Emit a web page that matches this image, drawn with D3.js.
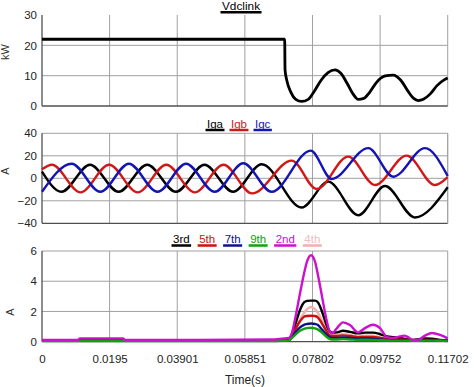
<!DOCTYPE html>
<html><head><meta charset="utf-8">
<script src="https://cdn.jsdelivr.net/npm/d3@7"></script>
<style>body{margin:0;background:#fff}svg{display:block}</style>
</head><body><svg id="c" width="474" height="387"></svg>
<script>
// ---------- DATA ----------
const xTicks = [0, 0.0195, 0.03901, 0.05851, 0.07802, 0.09752, 0.11702];
const xTickLabels = ["0", "0.0195", "0.03901", "0.05851", "0.07802", "0.09752", "0.11702"];
const vdcTicks = [0, 10, 20, 30];
const igTicks = [-40, -20, 0, 20, 40];
const hTicks = [0, 2, 4, 6];

// Vdclink (kW): [time, value]
const vdclink = [[0,22],[0.0700,22],[0.0701,12],[0.0706,8.5],[0.0718,4.5],[0.0732,2.2],[0.0749,1.5],
  [0.0768,2.2],[0.0785,4.8],[0.0805,8.5],[0.0825,11.0],[0.0845,11.9],[0.0862,10.8],[0.0880,7.5],
  [0.0897,4.0],[0.0912,2.2],[0.0928,2.5],[0.0945,4.5],[0.0965,7.8],[0.0990,9.9],[0.1013,10.2],
  [0.1035,8.5],[0.1055,5.0],[0.1072,2.5],[0.1085,1.8],[0.1100,2.2],[0.1120,4.0],[0.1140,6.8],
  [0.1160,8.6],[0.11702,9.2]];

// Grid currents (A): [time, value] at extrema
const iga = [[0,6],[0.005596,-12],[0.013845,12],[0.022095,-12],[0.030344,12],[0.038622,-12],
  [0.046872,12],[0.055121,-12],[0.063370,12.5],[0.074908,-25.9],[0.082580,-3],[0.091234,-32.8],
  [0.098935,-6.9],[0.107588,-34.8],[0.11702,-8]];
const igb = [[0,8],[0.002856,12],[0.011105,-12.5],[0.019354,12],[0.027604,-12.5],[0.035853,12],
  [0.044102,-12.5],[0.052352,12],[0.060601,-13.4],[0.072023,15.7],[0.079234,-9.5],[0.088349,19.3],
  [0.096051,-6],[0.105194,20.2],[0.113357,-6],[0.11702,1]];
const igc = [[0,-12],[0.008567,13],[0.016816,-12],[0.025065,13],[0.033315,-12],[0.041564,13],
  [0.049814,-12],[0.058063,13.4],[0.066255,-12],[0.077504,24.6],[0.083561,-0.6],[0.094118,26.8],
  [0.101329,1.4],[0.110473,26.8],[0.11702,2]];

// Harmonics (A): common sample times
const hTime = [0,0.01038,0.01096,0.02336,0.02394,0.04557,0.06721,0.06923,0.07124,0.07211,0.07326,
  0.07442,0.07557,0.07644,0.07759,0.07874,0.07961,0.08076,0.08192,0.08278,0.08365,0.08509,0.08682,
  0.08884,0.09115,0.09317,0.09547,0.09749,0.09951,0.10124,0.10326,0.10442,0.10557,0.10701,0.10845,
  0.11047,0.11249,0.11480,0.11702];
const h2nd = [0.12,0.12,0.22,0.22,0.12,0.12,0.15,0.2,0.25,0.6,1.8,3.2,4.5,5.3,5.72,5.3,4.4,3.0,1.6,0.8,
  0.55,0.9,1.28,1.1,0.62,0.9,1.12,0.9,0.3,0.25,0.35,0.4,0.3,0.12,0.12,0.4,0.58,0.45,0.22];
const h3rd = [0.08,0.08,0.08,0.08,0.08,0.08,0.08,0.1,0.2,0.5,1.3,2.1,2.6,2.7,2.72,2.72,2.6,2.0,1.2,0.75,
  0.6,0.62,0.72,0.65,0.55,0.6,0.6,0.5,0.35,0.3,0.25,0.2,0.15,0.12,0.15,0.22,0.2,0.12,0.1];
const h4th = [0.08,0.08,0.08,0.08,0.08,0.08,0.08,0.1,0.15,0.45,1.0,1.5,1.9,2.15,2.3,2.15,1.9,1.4,0.9,0.55,
  0.45,0.45,0.5,0.45,0.35,0.4,0.4,0.3,0.2,0.18,0.15,0.14,0.12,0.1,0.1,0.14,0.14,0.1,0.08];
const h5th = [0.08,0.08,0.08,0.08,0.08,0.08,0.08,0.1,0.15,0.4,0.9,1.35,1.65,1.7,1.72,1.7,1.6,1.2,0.75,0.45,
  0.38,0.38,0.42,0.38,0.3,0.32,0.32,0.25,0.18,0.15,0.14,0.13,0.12,0.1,0.1,0.12,0.12,0.1,0.08];
const h7th = [0.06,0.06,0.06,0.06,0.06,0.06,0.06,0.08,0.1,0.3,0.65,0.95,1.12,1.17,1.2,1.17,1.1,0.8,0.5,0.32,
  0.25,0.25,0.28,0.25,0.2,0.22,0.2,0.15,0.12,0.1,0.1,0.1,0.1,0.08,0.08,0.1,0.1,0.08,0.06];
const h9th = [0.05,0.05,0.05,0.05,0.05,0.05,0.05,0.06,0.08,0.25,0.5,0.72,0.85,0.9,0.92,0.88,0.8,0.6,0.35,0.2,
  0.15,0.15,0.17,0.15,0.12,0.13,0.12,0.1,0.08,0.07,0.07,0.07,0.07,0.06,0.06,0.07,0.07,0.06,0.05];

const igNames = ["Iga", "Igb", "Igc"];
const hNames = ["3rd", "5th", "7th", "9th", "2nd", "4th"];

// ---------- DRAW ----------
const svg = d3.select("#c");
const FONT = "'Liberation Sans', Arial, sans-serif";
const x = d3.scaleLinear().domain([0, 0.11702]).range([42, 447.7]);
const GRID = "#a0a0a0", AXIS = "#505050";

function panel(y, ticks, ylabel, ylabelPos, topBorder) {
  const g = svg.append("g");
  const [y0, y1] = y.range();
  g.selectAll(".vg").data(xTicks.slice(1)).enter().append("line")
    .attr("x1", d => x(d)).attr("x2", d => x(d)).attr("y1", y1).attr("y2", y0)
    .attr("stroke", GRID).attr("stroke-width", 1);
  g.selectAll(".hg").data(ticks.slice(1, topBorder ? ticks.length : ticks.length - 1)).enter().append("line")
    .attr("x1", x(0)).attr("x2", x(0.11702)).attr("y1", d => y(d)).attr("y2", d => y(d))
    .attr("stroke", GRID).attr("stroke-width", 1);
  g.append("line").attr("x1", x(0)).attr("x2", x(0)).attr("y1", y1).attr("y2", y0)
    .attr("stroke", AXIS).attr("stroke-width", 1.3);
  g.append("line").attr("x1", x(0)).attr("x2", x(0.11702)).attr("y1", y0).attr("y2", y0)
    .attr("stroke", AXIS).attr("stroke-width", 1.3);
  const ax = g.append("g").attr("transform", `translate(${x(0)},0)`)
    .call(d3.axisLeft(y).tickValues(ticks).tickSize(0).tickPadding(5).tickFormat(d3.format("d")));
  ax.select(".domain").remove();
  ax.selectAll("text").attr("font-family", FONT).attr("font-size", 11.5).attr("fill", "#222");
  g.append("text").attr("transform", `translate(${ylabelPos[0]},${ylabelPos[1]}) rotate(-90)`)
    .attr("text-anchor", "middle").attr("font-family", FONT).attr("font-size", 11).attr("fill", "#333")
    .text(ylabel);
  return g;
}

function legend(names, colors, startX, baseline, gap, size) {
  let cx = startX;
  names.forEach((n, i) => {
    const t = svg.append("text").attr("x", cx).attr("y", baseline).attr("font-family", FONT)
      .attr("font-size", size).attr("fill", i === 5 ? "#e8c0c0" : colors[i]).text(n);
    const w = t.node().getComputedTextLength();
    svg.append("line").attr("x1", cx - 1.5).attr("x2", cx + w + 1.5).attr("y1", baseline + 2.5).attr("y2", baseline + 2.5)
      .attr("stroke", colors[i]).attr("stroke-width", 2.5);
    cx += w + gap;
  });
}

// Panel 1
const y1 = d3.scaleLinear().domain([0, 30]).range([106, 15]);
panel(y1, vdcTicks, "kW", [9, 52], false);
svg.append("path").datum(vdclink)
  .attr("d", d3.line().x(d => x(d[0])).y(d => y1(d[1])).curve(d3.curveMonotoneX))
  .attr("fill", "none").attr("stroke", "#000").attr("stroke-width", 2.8);
legend(["Vdclink"], ["#000"], 222, 9.8, 0, 11.8);

// Panel 2
const y2 = d3.scaleLinear().domain([-40, 40]).range([223.3, 133.3]);
panel(y2, igTicks, "A", [9, 171], true);
svg.append("line").attr("x1", x(0.11702)).attr("x2", x(0.11702)).attr("y1", 133.3).attr("y2", 223.3)
  .attr("stroke", GRID);
const igColors = ["#000000", "#d01818", "#1414b4"];
[iga, igb, igc].forEach((s, i) => {
  svg.append("path").datum(s)
    .attr("d", d3.line().x(d => x(d[0])).y(d => y2(d[1])).curve(d3.curveMonotoneX))
    .attr("fill", "none").attr("stroke", igColors[i]).attr("stroke-width", 2.4);
});
legend(igNames, igColors, 207, 127.5, 8, 11.5);

// Panel 3
const y3 = d3.scaleLinear().domain([0, 6]).range([341.7, 251]);
panel(y3, hTicks, "A", [14, 312], true);
const hColors = ["#000000", "#cc1010", "#10108c", "#10a010", "#cc10cc", "#f0b0b0"];
const hSeries = [h3rd, h5th, h7th, h9th, h2nd, h4th];
const drawOrder = [5, 0, 1, 2, 3, 4];
drawOrder.forEach(i => {
  const pts = hTime.map((t, k) => [t, hSeries[i][k]]);
  svg.append("path").datum(pts)
    .attr("d", d3.line().x(d => x(d[0])).y(d => y3(d[1])).curve(d3.curveMonotoneX))
    .attr("fill", "none").attr("stroke", hColors[i]).attr("stroke-width", 2.4);
});
legend(hNames, hColors, 173, 243, 9.5, 11.5);

// x axis labels (bottom panel)
const xa = svg.append("g").attr("transform", `translate(0,${y3(0)})`)
  .call(d3.axisBottom(x).tickValues(xTicks).tickSize(0).tickPadding(13.6).tickFormat((d, i) => xTickLabels[i]));
xa.select(".domain").remove();
xa.selectAll("text").attr("font-family", FONT).attr("font-size", 11.5).attr("fill", "#222");
svg.append("text").attr("x", 245).attr("y", 384).attr("text-anchor", "middle")
  .attr("font-family", FONT).attr("font-size", 12).attr("fill", "#222").text("Time(s)");
</script></body></html>
